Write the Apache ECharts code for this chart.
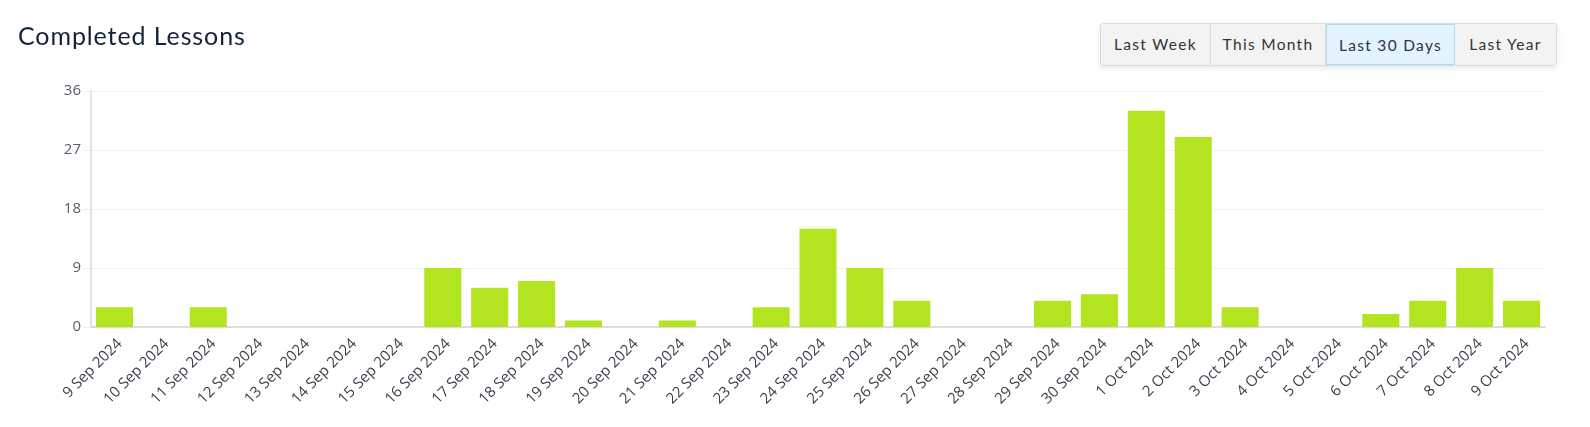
<!DOCTYPE html>
<html>
<head>
<meta charset="utf-8">
<script src="https://cdn.jsdelivr.net/npm/echarts@6/dist/echarts.min.js"></script>
<style>
html,body{margin:0;padding:0;background:#fff;}
#chart{width:1590px;height:427px;position:absolute;left:0;top:0;}
.title{position:absolute;left:18px;top:19px;font-family:Lato,"Noto Sans",sans-serif;font-size:25px;color:#12233a;letter-spacing:0.9px;line-height:32px;white-space:nowrap;}
.btns{position:absolute;left:1100px;top:23px;height:41px;display:flex;border:1px solid #dcdcdc;border-radius:3px;box-shadow:0 2px 6px rgba(0,0,0,0.10);overflow:hidden;font-family:Lato,"Noto Sans",sans-serif;font-size:15.5px;color:#333;}
.btns div{height:41px;line-height:41px;background:#f3f3f3;text-align:center;border-right:1px solid #dcdcdc;box-sizing:border-box;letter-spacing:1.3px;white-space:nowrap;}
.btns div:last-child{border-right:none;}
.btns div.active{background:#e1f4ff;border:1px solid #a9dcf7;}
</style>
</head>
<body>
<div id="chart"></div>
<div class="title">Completed Lessons</div>
<div class="btns">
  <div style="width:110px">Last Week</div>
  <div style="width:115px">This Month</div>
  <div class="active" style="width:129px">Last 30 Days</div>
  <div style="width:101px">Last Year</div>
</div>
<script>
const categories = ["9 Sep 2024","10 Sep 2024","11 Sep 2024","12 Sep 2024","13 Sep 2024","14 Sep 2024","15 Sep 2024","16 Sep 2024","17 Sep 2024","18 Sep 2024","19 Sep 2024","20 Sep 2024","21 Sep 2024","22 Sep 2024","23 Sep 2024","24 Sep 2024","25 Sep 2024","26 Sep 2024","27 Sep 2024","28 Sep 2024","29 Sep 2024","30 Sep 2024","1 Oct 2024","2 Oct 2024","3 Oct 2024","4 Oct 2024","5 Oct 2024","6 Oct 2024","7 Oct 2024","8 Oct 2024","9 Oct 2024"];
const lessons = [3,0,3,0,0,0,0,9,6,7,1,0,1,0,3,15,9,4,0,0,4,5,33,29,3,0,0,2,4,9,4];
const yTicks = {min:0, max:36, interval:9};

const chart = echarts.init(document.getElementById('chart'), null, {renderer:'canvas'});
chart.setOption({
  animation:false,
  grid:{left:91, right:45, top:91, bottom:100, containLabel:false},
  xAxis:{
    type:'category', data:categories, boundaryGap:true,
    axisLine:{lineStyle:{color:'#dddddd', width:2}},
    axisTick:{alignWithLabel:true, length:7, lineStyle:{color:'#d4d4d4', width:2}},
    axisLabel:{rotate:45, fontFamily:'Open Sans', fontSize:15, color:'#3d3d4a', margin:9, interval:0, verticalAlign:'top'}
  },
  yAxis:{
    type:'value', min:yTicks.min, max:yTicks.max, interval:yTicks.interval,
    axisLine:{show:true, lineStyle:{color:'#e2e2e2', width:2}},
    axisTick:{show:true, length:8, lineStyle:{color:'#eeeeee'}},
    splitLine:{lineStyle:{color:'#f0f0f0', width:1}},
    axisLabel:{fontFamily:'Open Sans', fontSize:15, color:'#5a5a6a', margin:10}
  },
  series:[{
    type:'bar', data:lessons, barCategoryGap:'21%',
    itemStyle:{color:'#b2e520'}
  }]
});
</script>
</body>
</html>
